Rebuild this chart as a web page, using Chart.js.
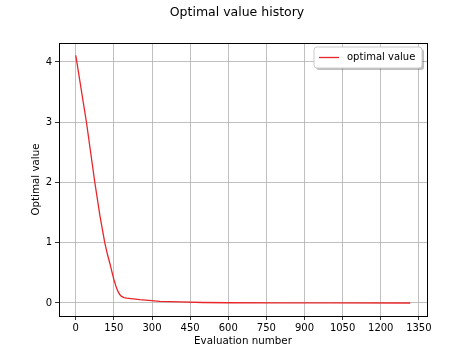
<!DOCTYPE html>
<html>
<head>
<meta charset="utf-8">
<script src="https://cdn.jsdelivr.net/npm/chart.js@4"></script>
<style>
  html, body { margin: 0; padding: 0; background: #fff; }
  #wrap { width: 474px; height: 355px; }
</style>
</head>
<body>
<div id="wrap"><canvas id="chart" width="474" height="355"></canvas></div>
<script>
// ── Data ───────────────────────────────────────────────────────────────────
const evalNumbers = [0, 42, 75, 95, 114, 125, 134, 142, 150, 158, 165, 173, 180, 190, 200, 252, 331, 409, 500, 600, 800, 1000, 1316];
const optimalValues = [4.11, 3.0, 2.0, 1.45, 1.0, 0.8, 0.66, 0.52, 0.39, 0.28, 0.2, 0.14, 0.11, 0.09, 0.08, 0.055, 0.027, 0.017, 0.008, 0.004, 0.002, 0.001, 0.0];
const xTicks = [0, 150, 300, 450, 600, 750, 900, 1050, 1200, 1350];
const yTicks = [0, 1, 2, 3, 4];

const FONT = "'DejaVu Sans', sans-serif";
const lineColor = '#e8262a';

// ── Frame, title and legend drawn like matplotlib ──────────────────────────
const mplDecor = {
  id: 'mplDecor',
  afterDraw(chart) {
    const { ctx, chartArea: a } = chart;
    ctx.save();
    // axes box
    ctx.strokeStyle = '#000';
    ctx.lineWidth = 1;
    ctx.strokeRect(Math.round(a.left) + 0.5, Math.round(a.top) + 0.5,
                   Math.round(a.right - a.left), Math.round(a.bottom - a.top));
    // title (centred on the figure, like a suptitle)
    ctx.fillStyle = '#000';
    ctx.font = '12.5px ' + FONT;
    ctx.textAlign = 'center';
    ctx.textBaseline = 'middle';
    ctx.fillText('Optimal value history', chart.width / 2, 13);
    // legend
    const bx = 314, by = 47, bw = 108, bh = 21;
    ctx.fillStyle = 'rgba(0,0,0,0.25)';
    roundRect(ctx, bx + 2, by + 2, bw, bh, 3); ctx.fill();
    ctx.fillStyle = '#fff';
    ctx.strokeStyle = '#ccc';
    roundRect(ctx, bx, by, bw, bh, 3); ctx.fill(); ctx.stroke();
    ctx.strokeStyle = lineColor;
    ctx.lineWidth = 1.3;
    ctx.beginPath(); ctx.moveTo(bx + 5, by + 10.5); ctx.lineTo(bx + 25, by + 10.5); ctx.stroke();
    ctx.fillStyle = '#000';
    ctx.font = '10px ' + FONT;
    ctx.textAlign = 'left';
    ctx.fillText(chart.data.datasets[0].label, bx + 33, by + 10.5);
    ctx.restore();
  }
};

function roundRect(ctx, x, y, w, h, r) {
  ctx.beginPath();
  ctx.moveTo(x + r, y);
  ctx.arcTo(x + w, y, x + w, y + h, r);
  ctx.arcTo(x + w, y + h, x, y + h, r);
  ctx.arcTo(x, y + h, x, y, r);
  ctx.arcTo(x, y, x + w, y, r);
  ctx.closePath();
}

// ── Chart ──────────────────────────────────────────────────────────────────
new Chart(document.getElementById('chart'), {
  type: 'scatter',
  data: {
    datasets: [{
      label: 'optimal value',
      data: evalNumbers.map((x, i) => ({ x, y: optimalValues[i] })),
      showLine: true,
      borderColor: lineColor,
      borderWidth: 1.3,
      pointRadius: 0,
      tension: 0,
    }],
  },
  options: {
    responsive: false,
    animation: false,
    layout: { padding: { left: 28, right: 47, top: 43, bottom: 0 } },
    plugins: { legend: { display: false }, title: { display: false }, tooltip: { enabled: false } },
    scales: {
      x: {
        type: 'linear',
        min: -66, max: 1382,
        afterBuildTicks: s => { s.ticks = xTicks.map(v => ({ value: v })); },
        afterFit: s => { s.height = 39; },
        grid: { color: '#b0b0b0', lineWidth: 0.8, tickLength: 4, tickColor: '#000' },
        border: { display: false },
        ticks: { color: '#000', font: { family: FONT, size: 10 }, padding: 2, maxRotation: 0,
                 callback: v => String(v) },
        title: { display: true, text: 'Evaluation number', color: '#000',
                 font: { family: FONT, size: 10.3 }, padding: { top: 0, bottom: 7 } },
      },
      y: {
        type: 'linear',
        min: -0.216, max: 4.315,
        afterBuildTicks: s => { s.ticks = yTicks.map(v => ({ value: v })); },
        afterFit: s => { s.width = 31; },
        grid: { color: '#b0b0b0', lineWidth: 0.8, tickLength: 4, tickColor: '#000' },
        border: { display: false },
        ticks: { color: '#000', font: { family: FONT, size: 10 }, padding: 3,
                 callback: v => String(v) },
        title: { display: true, text: 'Optimal value', color: '#000',
                 font: { family: FONT, size: 10.3 }, padding: { top: 2, bottom: 0 } },
      },
    },
  },
  plugins: [mplDecor],
});
</script>
</body>
</html>
